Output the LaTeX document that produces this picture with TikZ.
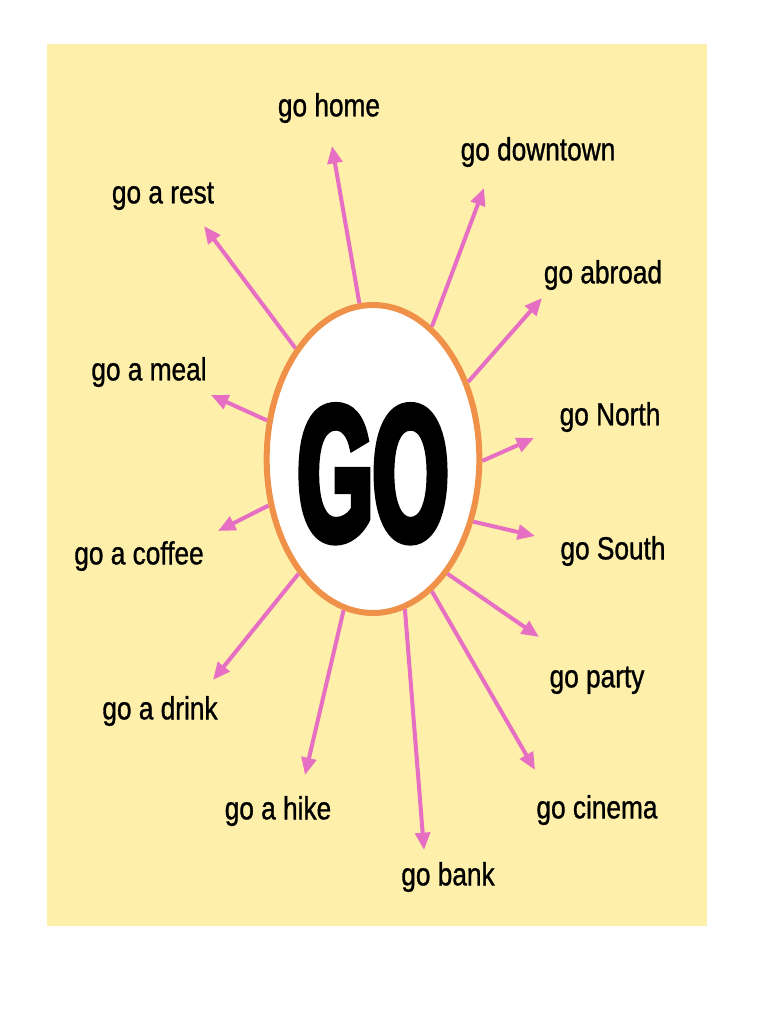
\documentclass[tikz,border=0pt]{standalone}
\usepackage{fontspec}
\usetikzlibrary{arrows.meta,shapes.geometric}
\newfontfamily\labfont[FakeStretch=0.82,FakeBold=1]{Liberation Sans}
\newfontfamily\bigfont[FakeStretch=0.5,FakeBold=3.5]{Liberation Sans}
\definecolor{paper}{RGB}{254,240,170}
\definecolor{rim}{RGB}{240,145,74}
\definecolor{spokepink}{RGB}{230,110,195}
\tikzset{every picture/.style={line width=0.75pt}}
\tikzset{
  lab/.style={font=\labfont\fontsize{24}{28}\selectfont, inner sep=0pt,
    text height=17.5pt, text depth=5pt},
  spoke/.style={draw=spokepink, line width=3pt,
    -{Triangle[length=13pt,width=11pt,fill=spokepink]}},
  hub/.style={ellipse, draw=rim, fill=white, line width=4.5pt,
    minimum width=153pt, minimum height=231pt, inner sep=0pt,
    text height=122pt, text depth=0pt}
}
\begin{document}
\begin{tikzpicture}[x=0.75pt,y=0.75pt,yscale=-1,xscale=1]
\useasboundingbox (0,0) rectangle (768,1024);

%Shape: Rectangle (background)
\fill [paper] (47,44) rectangle (707,926);

%Shape: Ellipse
\node (go) at (373,459) [hub] {\bigfont\bfseries\fontsize{145}{150}\selectfont GO};

% arrow tips
\coordinate (tHome) at (332,146);
\coordinate (tDown) at (484,188);
\coordinate (tAbroad) at (542,298);
\coordinate (tNorth) at (534,438);
\coordinate (tSouth) at (535,536);
\coordinate (tParty) at (539,637);
\coordinate (tCinema) at (535,770);
\coordinate (tBank) at (424,850);
\coordinate (tHike) at (305,775);
\coordinate (tDrink) at (213,680);
\coordinate (tCoffee) at (218,531);
\coordinate (tMeal) at (211,395);
\coordinate (tRest) at (204,226);

%Straight Lines
\draw [spoke] (go.95) -- (tHome);
\draw [spoke] (go.66) -- (tDown);
\draw [spoke] (go.39) -- (tAbroad);
\draw [spoke] (go.-1) -- (tNorth);
\draw [spoke] (go.-32) -- (tSouth);
\draw [spoke] (go.-57) -- (tParty);
\draw [spoke] (go.-66) -- (tCinema);
\draw [spoke] (go.-78) -- (tBank);
\draw [spoke] (go.-101) -- (tHike);
\draw [spoke] (go.-123) -- (tDrink);
\draw [spoke] (go.-156) -- (tCoffee);
\draw [spoke] (go.160) -- (tMeal);
\draw [spoke] (go.125) -- (tRest);

% Text Node
\node (home) at (329,108) [lab] {go home};
\node (down) at (538,152) [lab] {go downtown};
\node (abroad) at (603,275) [lab] {go abroad};
\node (north) at (610,417) [lab] {go North};
\node (south) at (613,551) [lab] {go South};
\node (party) at (597,679) [lab] {go party};
\node (cinema) at (597,810) [lab] {go cinema};
\node (bank) at (448,877) [lab] {go bank};
\node (hike) at (278,811) [lab] {go a hike};
\node (drink) at (160,711) [lab] {go a drink};
\node (coffee) at (139,556) [lab] {go a coffee};
\node (meal) at (149,372) [lab] {go a meal};
\node (rest) at (163,195) [lab] {go a rest};

\end{tikzpicture}
\end{document}
